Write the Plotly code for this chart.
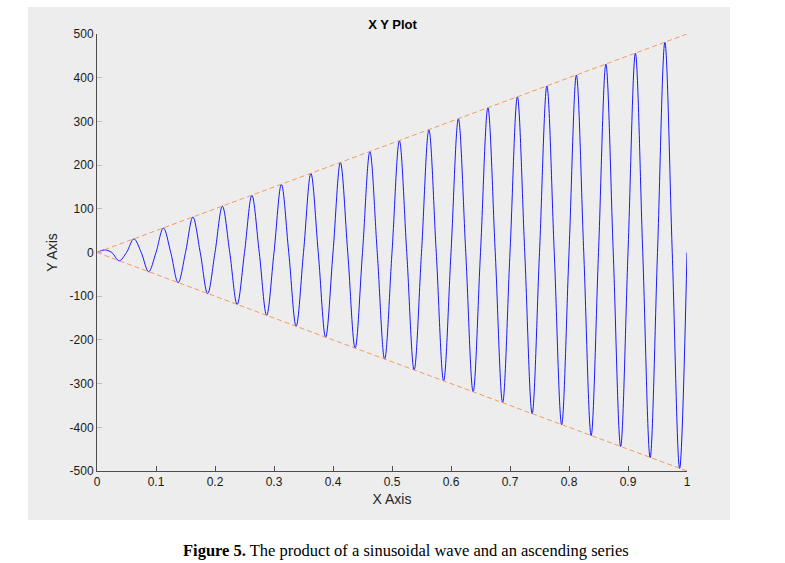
import plotly.graph_objects as go

# Quarter-period sample points of the oscillating curve
x_wave = [0, 0.0125, 0.025, 0.0375, 0.05, 0.0625, 0.075, 0.0875, 0.1, 0.1125,
          0.125, 0.1375, 0.15, 0.1625, 0.175, 0.1875, 0.2, 0.2125, 0.225, 0.2375,
          0.25, 0.2625, 0.275, 0.2875, 0.3, 0.3125, 0.325, 0.3375, 0.35, 0.3625,
          0.375, 0.3875, 0.4, 0.4125, 0.425, 0.4375, 0.45, 0.4625, 0.475, 0.4875,
          0.5, 0.5125, 0.525, 0.5375, 0.55, 0.5625, 0.575, 0.5875, 0.6, 0.6125,
          0.625, 0.6375, 0.65, 0.6625, 0.675, 0.6875, 0.7, 0.7125, 0.725, 0.7375,
          0.75, 0.7625, 0.775, 0.7875, 0.8, 0.8125, 0.825, 0.8375, 0.85, 0.8625,
          0.875, 0.8875, 0.9, 0.9125, 0.925, 0.9375, 0.95, 0.9625, 0.975, 0.9875, 1.0]
y_wave = [0, 6, 0, -19, 0, 31, 0, -44, 0, 56,
          0, -69, 0, 81, 0, -94, 0, 106, 0, -119,
          0, 131, 0, -144, 0, 156, 0, -169, 0, 181,
          0, -194, 0, 206, 0, -219, 0, 231, 0, -244,
          0, 256, 0, -269, 0, 281, 0, -294, 0, 306,
          0, -319, 0, 331, 0, -344, 0, 356, 0, -369,
          0, 381, 0, -394, 0, 406, 0, -419, 0, 431,
          0, -444, 0, 456, 0, -469, 0, 481, 0, -494, 0]

# Envelope lines
x_env = [0, 1]
y_env_upper = [0, 500]
y_env_lower = [0, -500]

x_ticks = [0, 0.1, 0.2, 0.3, 0.4, 0.5, 0.6, 0.7, 0.8, 0.9, 1]
x_tick_labels = ["0", "0.1", "0.2", "0.3", "0.4", "0.5", "0.6", "0.7", "0.8", "0.9", "1"]
y_ticks = [-500, -400, -300, -200, -100, 0, 100, 200, 300, 400, 500]
y_tick_labels = ["-500", "-400", "-300", "-200", "-100", "0", "100", "200", "300", "400", "500"]

fig = go.Figure()
fig.add_trace(go.Scatter(x=x_wave, y=y_wave, mode="lines",
                         line=dict(color="#0000ff", width=0.9, shape="spline", smoothing=1),
                         showlegend=False))
fig.add_trace(go.Scatter(x=x_env, y=y_env_upper, mode="lines",
                         line=dict(color="#F39A62", width=1, dash="5px,3px"), showlegend=False))
fig.add_trace(go.Scatter(x=x_env, y=y_env_lower, mode="lines",
                         line=dict(color="#F39A62", width=1, dash="5px,3px"), showlegend=False))

L, R, T, B = 97, 98, 34, 92
W, H = 785, 563
pw = W - L - R
ph = H - T - B

fig.add_shape(type="rect", xref="paper", yref="paper", layer="below",
              x0=(28 - L) / pw, x1=(730 - L) / pw,
              y0=(H - B - 520) / ph, y1=(H - B - 7) / ph,
              fillcolor="#ededed", line=dict(width=0))

font_main = "Liberation Sans, Arial, Helvetica, sans-serif"
fig.update_layout(
    width=W, height=H,
    margin=dict(l=L, r=R, t=T, b=B),
    paper_bgcolor="white", plot_bgcolor="white",
    font=dict(family=font_main, color="#262626", size=12),
    title=dict(text="<b>X Y Plot</b>", x=0.5, xanchor="center", y=(H - 24) / H,
               yanchor="middle", font=dict(size=13, color="#000000", family=font_main)),
    xaxis=dict(range=[0, 1], tickvals=x_ticks, ticktext=x_tick_labels,
               showgrid=False, zeroline=False, showline=True, linecolor="#4d4d4d",
               linewidth=1, ticks="inside", ticklen=5, tickcolor="#4d4d4d",
               tickfont=dict(size=12, color="#1a1a1a"),
               title=dict(text="X Axis", font=dict(size=14, color="#262626"), standoff=5)),
    yaxis=dict(range=[-500, 500], tickvals=y_ticks, ticktext=y_tick_labels,
               showgrid=False, zeroline=False, showline=True, linecolor="#4d4d4d",
               linewidth=1, ticks="inside", ticklen=5, tickcolor="#bdbdbd",
               tickfont=dict(size=12, color="#1a1a1a"),
               title=dict(text="Y Axis", font=dict(size=14, color="#262626"), standoff=8)),
    annotations=[dict(
        text="<b>Figure 5.</b> The product of a sinusoidal wave and an ascending series",
        xref="paper", yref="paper", x=(406 - L) / pw, y=(H - B - 550) / ph,
        xanchor="center", yanchor="middle", showarrow=False,
        font=dict(family="Liberation Serif, Times New Roman, serif", size=16.5, color="#000000"))],
)

fig.write_html("out.html")
